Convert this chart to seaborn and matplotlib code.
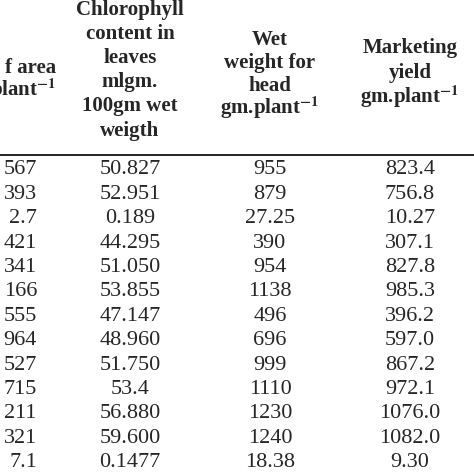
import matplotlib
matplotlib.use("Agg")
import matplotlib.pyplot as plt
import seaborn as sns

sns.set_style("white")
plt.rcParams["font.family"] = ["Liberation Serif", "DejaVu Serif"]
plt.rcParams["mathtext.fontset"] = "stix"

# visible (cropped) first column and the three full columns
leaf_area = ["567", "393", "2.7", "421", "341", "166", "555", "964", "527", "715", "211", "321", "7.1"]
chlorophyll = ["50.827", "52.951", "0.189", "44.295", "51.050", "53.855", "47.147",
               "48.960", "51.750", "53.4", "56.880", "59.600", "0.1477"]
wet_weight = ["955", "879", "27.25", "390", "954", "1138", "496", "696", "999", "1110",
              "1230", "1240", "18.38"]
market_yield = ["823.4", "756.8", "10.27", "307.1", "827.8", "985.3", "396.2", "597.0",
                "867.2", "972.1", "1076.0", "1082.0", "9.30"]

sup = "$^{\\mathbf{-1}}$"
headers = [
    (["f area", "plant" + sup], [68, 90], 56, "right"),
    (["Chlorophyll", "content in", "leaves", "mlgm.", "100gm wet", "weigth"],
     [10, 34, 58, 82, 106, 131], 130, "center"),
    (["Wet", "weight for", "head", "gm.plant" + sup], [40, 63, 86, 108], 270, "center"),
    (["Marketing", "yield", "gm.plant" + sup], [48, 73, 97], 410, "center"),
]

W = H = 474
fig = plt.figure(figsize=(W / 100, H / 100), dpi=100)
ax = fig.add_axes([0, 0, 1, 1])
ax.set_xlim(0, W)
ax.set_ylim(H, 0)
ax.axis("off")

for lines, ys, x, ha in headers:
    for t, y in zip(lines, ys):
        ax.text(x, y, t, ha=ha, va="center", fontsize=15, fontweight="bold")

ax.plot([0, W], [155, 155], color="black", lw=1.2)

row_y = [170 + i * 24.4 for i in range(len(leaf_area))]
for i, y in enumerate(row_y):
    ax.text(37, y, leaf_area[i], ha="right", va="center", fontsize=16)
    ax.text(130, y, chlorophyll[i], ha="center", va="center", fontsize=16)
    ax.text(270, y, wet_weight[i], ha="center", va="center", fontsize=16)
    ax.text(410, y, market_yield[i], ha="center", va="center", fontsize=16)

fig.savefig("out.png", dpi=100)
